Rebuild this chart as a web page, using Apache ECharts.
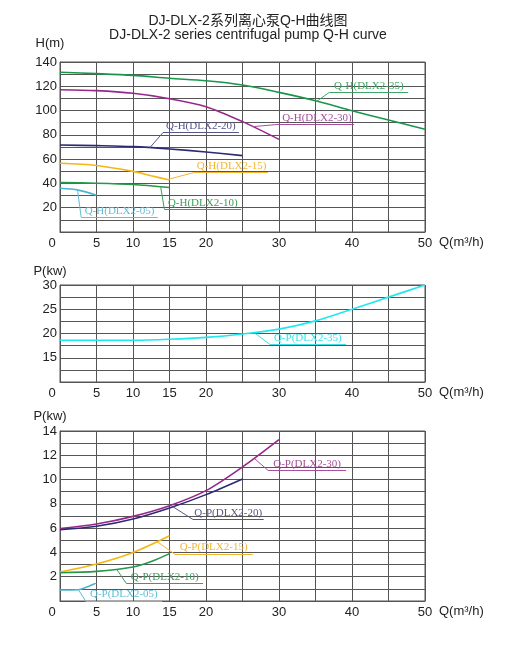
<!DOCTYPE html>
<html>
<head>
<meta charset="utf-8">
<script src="https://cdn.jsdelivr.net/npm/echarts@6/dist/echarts.min.js"></script>
<style>
html,body{margin:0;padding:0;background:#fff;}
#c{width:510px;height:656px;}
</style>
</head>
<body>
<div id="c"></div>
<script>
// ---- tick labels ----
const xTickLabels = [0, 5, 10, 15, 20, 30, 40, 50];
const yTicksH = [20, 40, 60, 80, 100, 120, 140];
const yTicksP35 = [15, 20, 25, 30];
const yTicksP = [2, 4, 6, 8, 10, 12, 14];

// ---- Q-H curves ----
const qhQ35 = [0, 5, 10, 15, 20, 25, 30, 35, 40, 45, 50];
const qhH35 = [131.5, 130.4, 129.0, 126.6, 124.6, 121.1, 115.0, 108.1, 99.9, 92.2, 84.6];
const qhQ30 = [0, 5, 10, 15, 20, 25, 30];
const qhH30 = [117.2, 116.4, 114.2, 109.8, 103.2, 90.9, 76.3];
const qhQ20 = [0, 5, 10, 15, 20, 25];
const qhH20 = [71.6, 71.1, 70.3, 68.4, 65.9, 62.9];
const qhQ15 = [0, 5, 10, 12.5, 15];
const qhH15 = [56.6, 54.8, 49.9, 46.3, 42.8];
const qhQ10 = [0, 5, 10, 15];
const qhH10 = [40.7, 40.2, 39.1, 36.6];
const qhQ05 = [0, 2.5, 5];
const qhH05 = [36.0, 34.5, 30.3];

// ---- Q-P curves ----
const qpQ35 = [0, 5, 10, 15, 20, 25, 30, 35, 40, 45, 50];
const qpP35 = [18.6, 18.6, 18.6, 18.8, 19.2, 19.9, 20.9, 22.6, 25.0, 27.5, 30.0];
const qpQ30 = [0, 5, 10, 15, 20, 25, 30];
const qpP30 = [5.96, 6.34, 6.97, 7.85, 9.09, 11.04, 13.29];
const qpQ20 = [0, 5, 10, 15, 20, 25];
const qpP20 = [5.87, 6.15, 6.75, 7.66, 8.76, 10.05];
const qpQ15 = [0, 5, 10, 15];
const qpP15 = [2.39, 3.05, 4.0, 5.38];
const qpQ10 = [0, 5, 10, 12.5, 15];
const qpP10 = [2.33, 2.44, 2.8, 3.25, 3.9];
const qpQ05 = [0, 2.5, 3.9, 5];
const qpP05 = [0.91, 0.93, 1.2, 1.5];

// ---- label leader anchors (data coords: curve point, elbow, underline end) ----
const noteQH35 = [[35.1, 107.3], [36.9, 115.0], [47.7, 115.0]];
const noteQH30 = [[26.3, 86.7], [30.1, 88.7], [40.3, 88.7]];
const noteQH20 = [[12.3, 69.4], [14.1, 81.8], [24.5, 81.8]];
const noteQH15 = [[14.9, 43.5], [18.5, 49.2], [28.5, 49.2]];
const noteQH10 = [[13.8, 36.8], [14.3, 18.7], [24.8, 18.7]];
const noteQH05 = [[2.4, 34.6], [2.9, 12.1], [13.4, 12.1]];
const noteQP35 = [[26.8, 19.95], [28.7, 17.8], [39.2, 17.8]];
const noteQP30 = [[26.7, 11.7], [28.5, 10.76], [39.2, 10.76]];
const noteQP20 = [[15.5, 7.75], [18.2, 6.72], [27.9, 6.72]];
const noteQP15 = [[13.4, 4.85], [15.7, 3.87], [26.4, 3.87]];
const noteQP10 = [[7.8, 2.58], [9.1, 1.43], [19.6, 1.43]];
const noteQP05 = [[2.5, 0.95], [3.5, 0.0], [14.0, 0.0]];

const zip = (a, b) => a.map((v, i) => [v, b[i]]);

const FONT = "'Liberation Sans', Arial, 'Noto Sans CJK SC', sans-serif";
const SERIF = "'Liberation Serif', 'Times New Roman', serif";
const GRIDC = '#555';

function xAxisCfg(gi) {
  return {
    type: 'value', gridIndex: gi, min: 0, max: 50, interval: 5,
    axisLine: { show: true, lineStyle: { color: GRIDC, width: 1 } },
    axisTick: { show: false },
    splitLine: { show: true, lineStyle: { color: GRIDC, width: 1 } },
    axisLabel: {
      margin: 5, color: '#222', fontSize: 13, fontFamily: FONT,
      formatter: v => xTickLabels.includes(v) ? (v === 0 ? '{z|0}' : String(v)) : '',
      rich: { z: { padding: [0, 16, 0, 0], fontSize: 13, color: '#222', fontFamily: FONT } }
    },
    name: 'Q(m³/h)', nameLocation: 'end', nameGap: 14,
    nameTextStyle: { color: '#222', fontSize: 13, fontFamily: FONT, align: 'left', verticalAlign: 'top', padding: [4, 0, 0, 0] }
  };
}
function yAxisCfg(gi, min, max, interval, ticks, name, gap) {
  return {
    type: 'value', gridIndex: gi, min: min, max: max, interval: interval,
    axisLine: { show: true, lineStyle: { color: GRIDC, width: 1 } },
    axisTick: { show: false },
    splitLine: { show: true, lineStyle: { color: GRIDC, width: 1 } },
    axisLabel: {
      margin: 3, color: '#222', fontSize: 13, fontFamily: FONT,
      formatter: v => ticks.includes(v) ? String(v) : ''
    },
    name: name, nameLocation: 'end', nameGap: gap,
    nameTextStyle: { color: '#222', fontSize: 13, fontFamily: FONT, align: 'center', verticalAlign: 'middle', padding: [0, 20, 0, 0] }
  };
}

function curve(name, gi, q, v, color, note, noteColor) {
  const lab = {
    show: true, position: 'insideMiddleTop', distance: 1,
    formatter: name, color: noteColor, fontFamily: SERIF, fontSize: 11
  };
  return {
    type: 'line', name: name, xAxisIndex: gi, yAxisIndex: gi,
    data: zip(q, v), showSymbol: false, smooth: 0.3,
    lineStyle: { color: color, width: 1.6 }, itemStyle: { color: color },
    silent: true, z: 3,
    markLine: {
      silent: true, symbol: ['none', 'none'], animation: false,
      lineStyle: { color: noteColor, width: 1, type: 'solid' },
      label: { show: false },
      emphasis: { disabled: true },
      data: [
        [{ coord: note[0], label: { show: false } }, { coord: note[1], label: { show: false } }],
        [{ coord: note[1], label: lab }, { coord: note[2], label: lab }]
      ]
    }
  };
}

const option = {
  animation: false,
  backgroundColor: '#fff',
  title: {
    text: 'DJ-DLX-2系列离心泵Q-H曲线图\nDJ-DLX-2 series centrifugal pump Q-H curve',
    left: 243, top: 9, textAlign: 'center',
    textStyle: { fontSize: 14, fontWeight: 'normal', color: '#222', fontFamily: FONT, lineHeight: 14 }
  },
  grid: [
    { left: 60, width: 365, top: 62, height: 170, show: true, borderColor: GRIDC, borderWidth: 1 },
    { left: 60, width: 365, top: 285, height: 97, show: true, borderColor: GRIDC, borderWidth: 1 },
    { left: 60, width: 365, top: 431, height: 170, show: true, borderColor: GRIDC, borderWidth: 1 }
  ],
  xAxis: [xAxisCfg(0), xAxisCfg(1), xAxisCfg(2)],
  yAxis: [
    yAxisCfg(0, 0, 140, 10, yTicksH, 'H(m)', 19),
    yAxisCfg(1, 10, 30, 2.5, yTicksP35, 'P(kw)', 14),
    yAxisCfg(2, 0, 14, 1, yTicksP, 'P(kw)', 15)
  ],
  series: [
    curve('Q-H(DLX2-35)', 0, qhQ35, qhH35, '#18964a', noteQH35, '#3fa566'),
    curve('Q-H(DLX2-30)', 0, qhQ30, qhH30, '#97278a', noteQH30, '#a5509a'),
    curve('Q-H(DLX2-20)', 0, qhQ20, qhH20, '#2c2a72', noteQH20, '#55558a'),
    curve('Q-H(DLX2-15)', 0, qhQ15, qhH15, '#f6b614', noteQH15, '#f4b530'),
    curve('Q-H(DLX2-10)', 0, qhQ10, qhH10, '#25984a', noteQH10, '#3d9e5a'),
    curve('Q-H(DLX2-05)', 0, qhQ05, qhH05, '#4bb4cf', noteQH05, '#62bcd6'),
    curve('Q-P(DLX2-35)', 1, qpQ35, qpP35, '#1ee8f0', noteQP35, '#3fe0ea'),
    curve('Q-P(DLX2-30)', 2, qpQ30, qpP30, '#97278a', noteQP30, '#a5509a'),
    curve('Q-P(DLX2-20)', 2, qpQ20, qpP20, '#2c2a72', noteQP20, '#55558a'),
    curve('Q-P(DLX2-15)', 2, qpQ15, qpP15, '#f6b614', noteQP15, '#f4b530'),
    curve('Q-P(DLX2-10)', 2, qpQ10, qpP10, '#25984a', noteQP10, '#3d9e5a'),
    curve('Q-P(DLX2-05)', 2, qpQ05, qpP05, '#4bb4cf', noteQP05, '#62bcd6')
  ]
};

const chart = echarts.init(document.getElementById('c'), null, { renderer: 'canvas' });
chart.setOption(option);
</script>
</body>
</html>
